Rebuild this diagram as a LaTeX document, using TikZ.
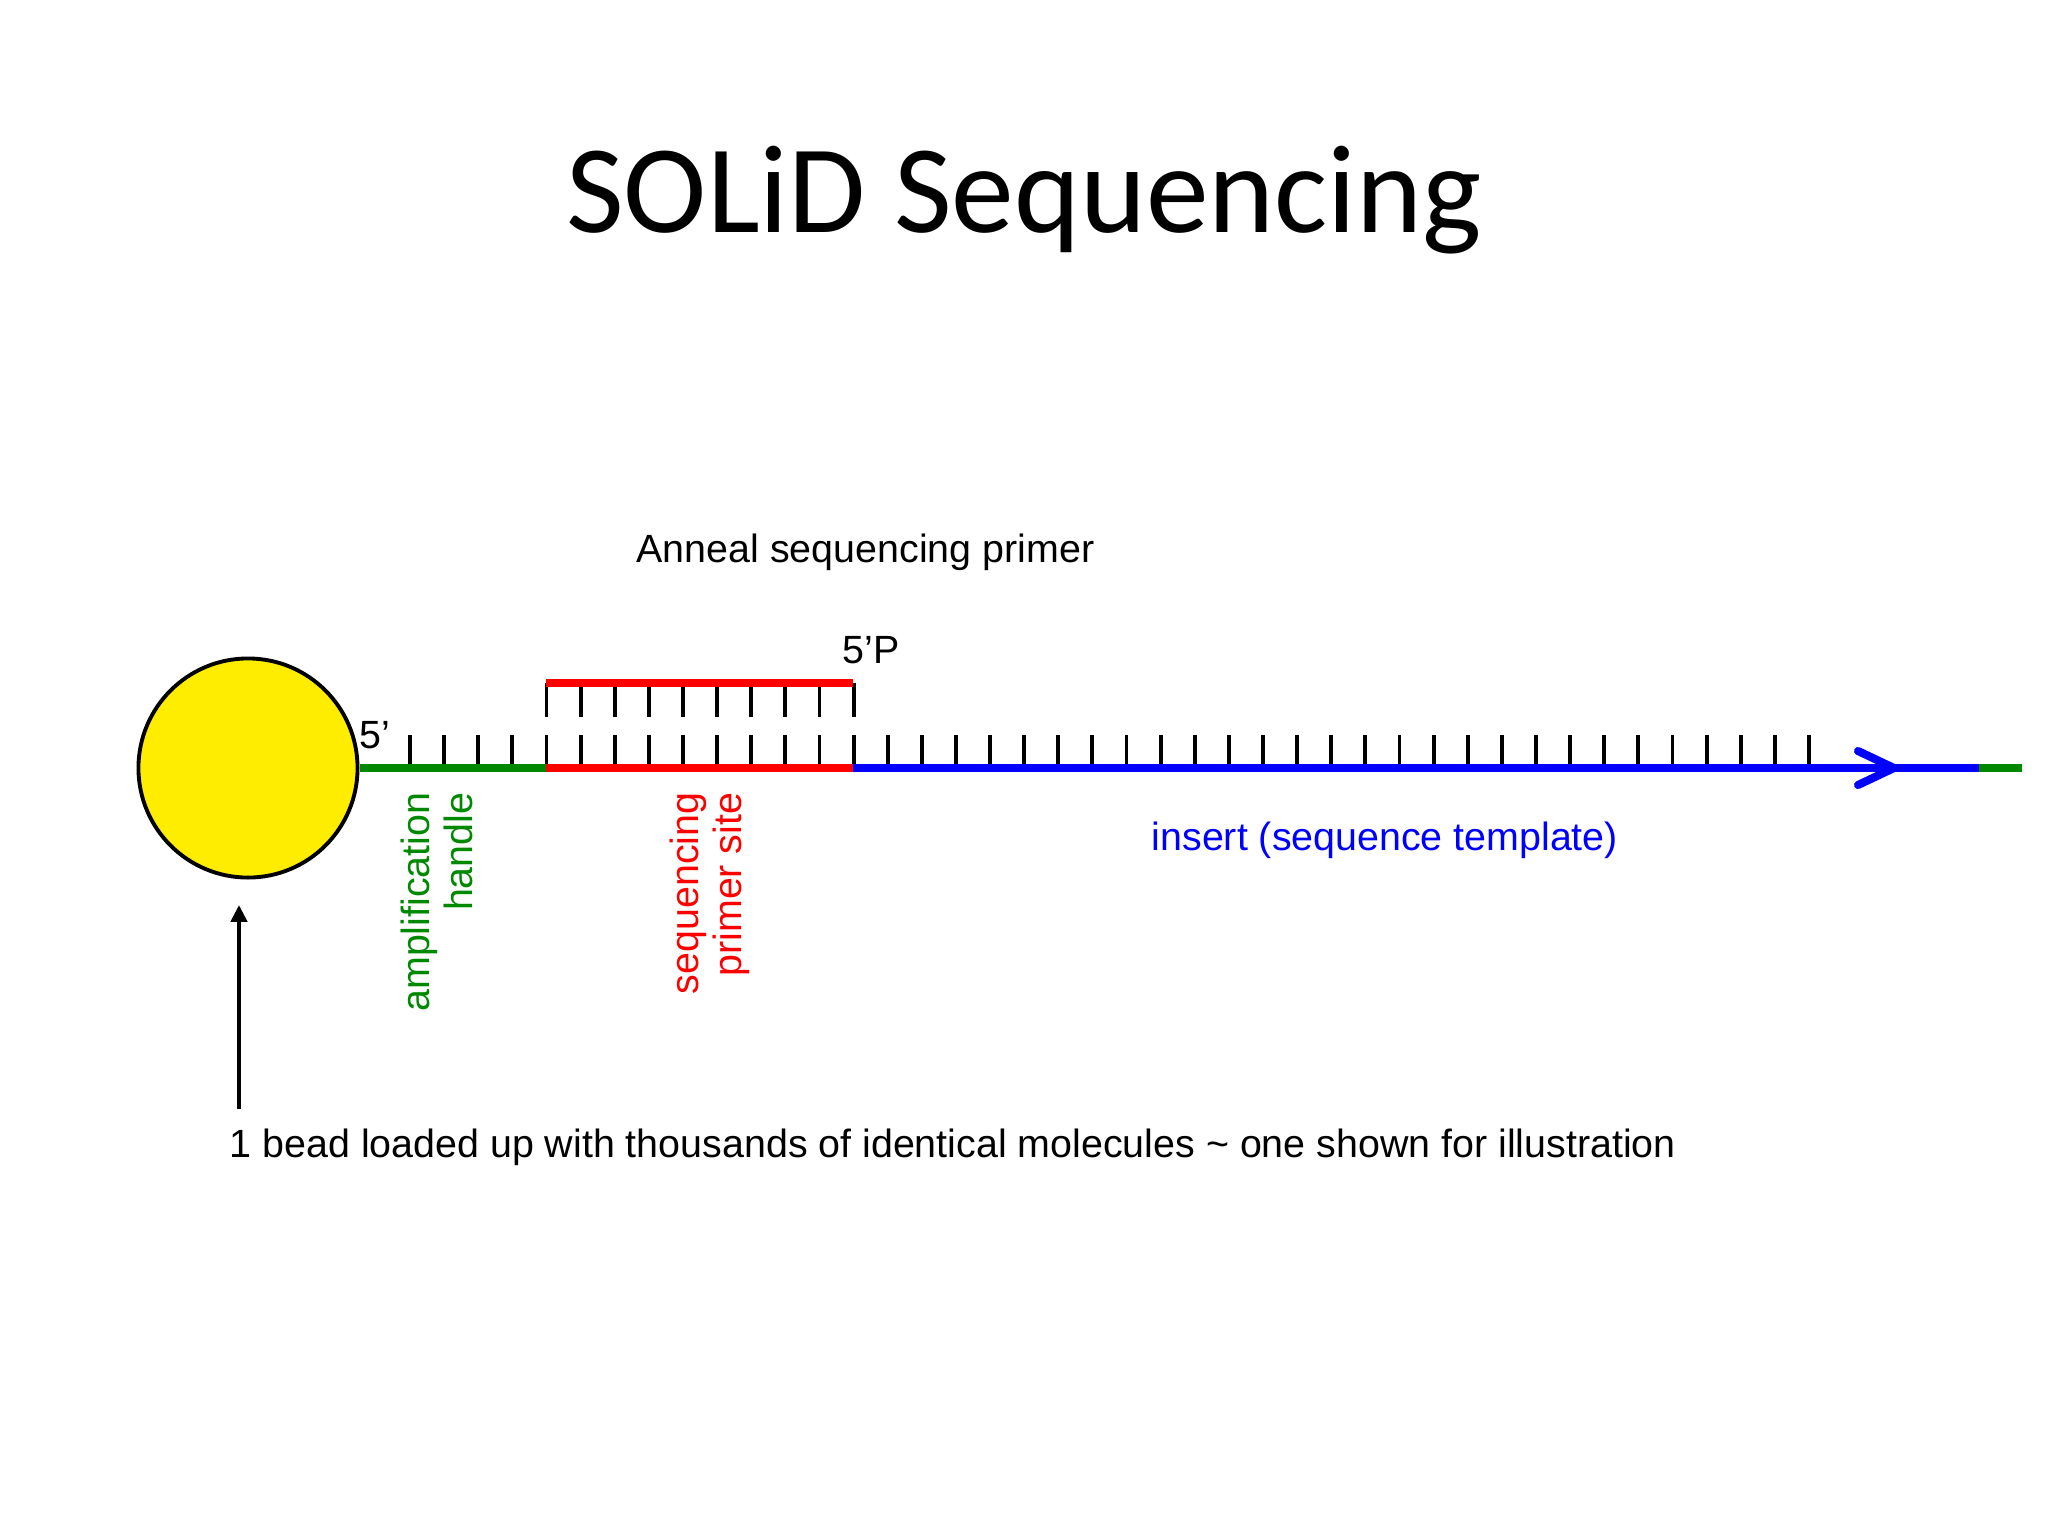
\documentclass[tikz,border=0pt]{standalone}
\usepackage{fontspec}
\setmainfont{Liberation Sans}
\newfontfamily\titlefont{Carlito}
\usetikzlibrary{arrows.meta}
\definecolor{handlegreen}{RGB}{0,136,0}
\definecolor{primerred}{RGB}{255,0,0}
\definecolor{insertblue}{RGB}{0,0,255}
\definecolor{beadyellow}{RGB}{255,237,0}

\begin{document}
\begin{tikzpicture}[x=0.01cm, y=-0.01cm,
  strand/.style={line width=2.1pt},
  rung/.style={line width=1.1pt},
  lbl/.style={font=\fontsize{11.2}{13}\selectfont, inner sep=0pt},
  sidelbl/.style={lbl, rotate=90, align=right, anchor=east, font=\fontsize{11.2}{12.3}\selectfont},
  ptr/.style={line width=1.14pt, -{Triangle[length=4.8pt, width=4.6pt]}}]
  \useasboundingbox (0,0) rectangle (2048,1536);

  \node[circle, draw, line width=1.1pt, fill=beadyellow, minimum size=2.19cm, inner sep=0pt] (bead) at (248,768) {};

  \coordinate (hend) at (546,768);
  \coordinate (pend) at (853,768);
  \coordinate (ptop) at (546,683);
  \coordinate (p5) at (853,683);
  \coordinate (tip) at (1894,768);
  \coordinate (tail) at (1979,768);
  \coordinate (tailend) at (2022,768);

  \foreach \k in {0,...,41}
    \draw[rung] ({410+34.12*\k},735) -- ++(0,33);
  \foreach \k in {4,...,13}
    \draw[rung] ({410+34.12*\k},683) -- ++(0,34);

  \draw[strand, handlegreen] (bead.east) -- (hend);
  \draw[strand, primerred] (hend) -- (pend);
  \draw[strand, primerred] (ptop) -- (p5);
  \draw[strand, insertblue] (pend) -- (tail);
  \draw[strand, handlegreen] (tail) -- (tailend);
  \draw[insertblue, line width=2.3pt, line cap=round, line join=round] (1858,751) -- (tip) -- (1858,785);

  \node[font=\titlefont\fontsize{35.7}{40}\selectfont, anchor=base] (title) at (1024,232) {SOLiD Sequencing};
  \node[lbl, anchor=base west] (anneal) at (636,562) {Anneal sequencing primer};
  \node[lbl, anchor=base west] (fivep) at (842,663) {5’P};
  \node[lbl, anchor=base west] (five) at (359,748) {5’};
  \node[sidelbl, text=handlegreen] (handle) at (437,792) {amplification\\handle};
  \node[sidelbl, text=primerred] (primersite) at (710,792) {sequencing\\primer site};
  \node[lbl, anchor=base west, text=insertblue] (insert) at (1151,850) {insert (sequence template)};
  \node[lbl, anchor=base west] (beadnote) at (229,1157) {1 bead loaded up with thousands of identical molecules \textasciitilde{} one shown for illustration};

  \coordinate (beadptr) at (239,1109);
  \coordinate (beadtip) at (239,905);
  \draw[ptr] (beadptr) -- (beadtip);
\end{tikzpicture}
\end{document}
